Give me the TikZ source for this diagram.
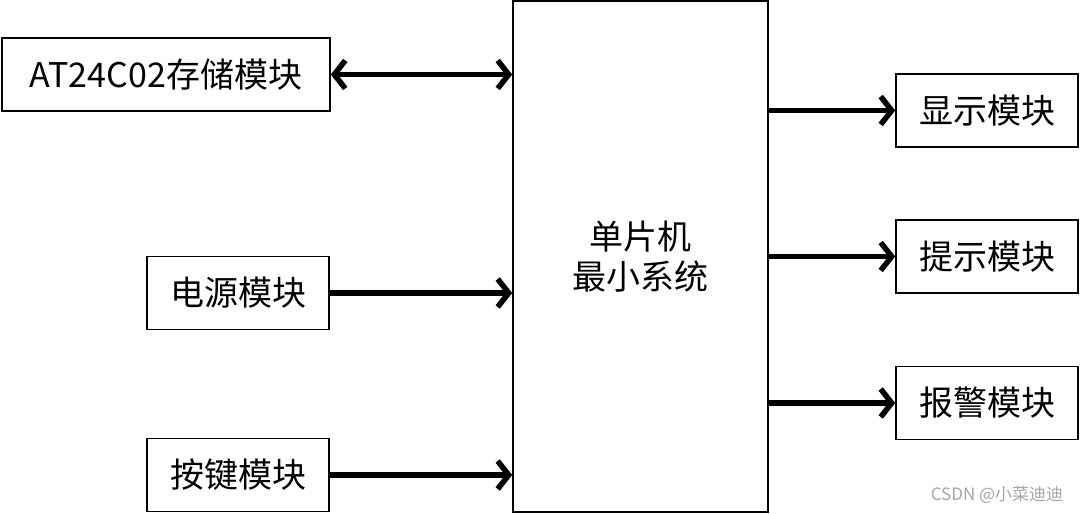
\documentclass[tikz,border=0pt]{standalone}
\usepackage{fontspec}
\setmainfont{Noto Sans CJK SC}
\usepackage{tikz}
\usetikzlibrary{shapes,arrows.meta}
\tikzstyle{block}=[rectangle, draw, line width=1.6pt, fill=white, inner sep=0pt,
        minimum width=182pt, minimum height=73pt,
        font=\fontsize{34}{40}\selectfont]
\tikzstyle{mcu}=[rectangle, draw, line width=1.6pt, inner sep=0pt,
        minimum width=255pt, minimum height=511pt, align=center,
        font=\fontsize{34}{40}\selectfont]
\tikzstyle{link}=[line width=5.5pt]

\begin{document}
\begin{tikzpicture}
      [x=1pt, y=-1pt, >={Straight Barb[length=11pt,width=28pt]}]
      \useasboundingbox (0,0) rectangle (1080,514);
      % Place nodes
      \node [mcu] (main) at (640.5,256.5) {单片机\\最小系统};
      \node [block, minimum width=328pt] (mem) at (166,74.5) {AT24C02存储模块};
      \node [block] (power) at (238,293) {电源模块};
      \node [block] (key) at (238,475) {按键模块};
      \node [block] (disp) at (987,110.5) {显示模块};
      \node [block] (hint) at (987,256.5) {提示模块};
      \node [block] (alarm) at (987,403) {报警模块};
      \node [font=\fontsize{17}{19}\selectfont, text=gray!70] (mark) at (997,495) {CSDN @小菜迪迪};
      % Draw edges
      \draw [<->, link] (mem.east) -- (mem.east -| main.west);
      \draw [->, link] (power.east) -- (power.east -| main.west);
      \draw [->, link] (key.east) -- (key.east -| main.west);
      \draw [->, link] (main.east |- disp.west) -- (disp.west);
      \draw [->, link] (main.east |- hint.west) -- (hint.west);
      \draw [->, link] (main.east |- alarm.west) -- (alarm.west);
\end{tikzpicture}
\end{document}
